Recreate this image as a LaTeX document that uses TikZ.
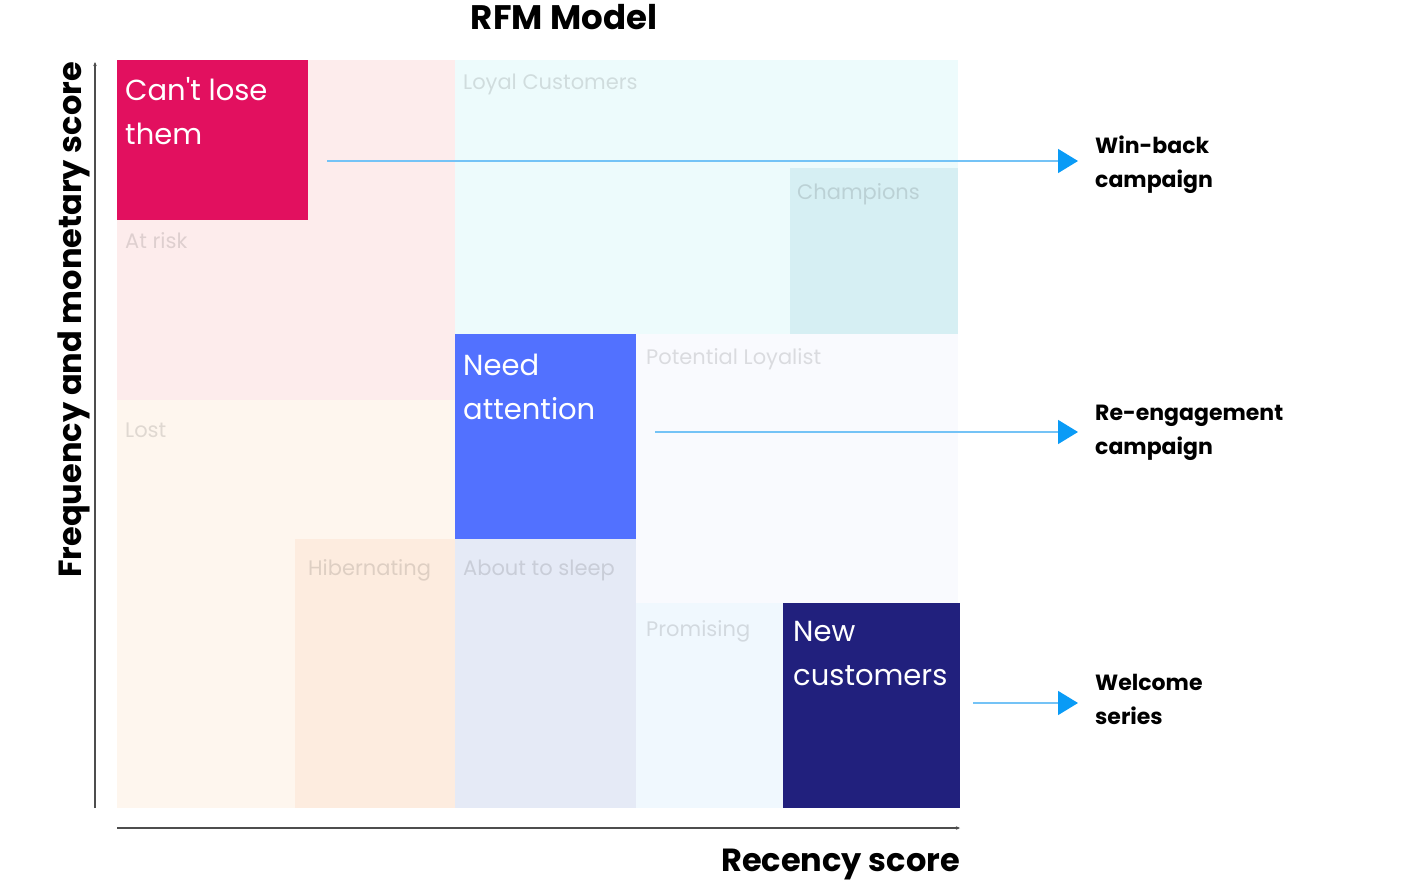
\documentclass[tikz,border=0pt]{standalone}
\usepackage{fontspec}
\setmainfont{Poppins}
\usetikzlibrary{arrows.meta,fit,calc}
\definecolor{riskc}{HTML}{FDECEC}
\definecolor{lostc}{HTML}{FEF6EE}
\definecolor{loyalc}{HTML}{EDFBFC}
\definecolor{champc}{HTML}{D6EFF3}
\definecolor{potc}{HTML}{F9FAFE}
\definecolor{hibc}{HTML}{FDECDF}
\definecolor{sleepc}{HTML}{E5EAF6}
\definecolor{promc}{HTML}{F0F8FE}
\definecolor{cantc}{HTML}{E2105F}
\definecolor{needc}{HTML}{5271FF}
\definecolor{newcc}{HTML}{21207D}
\definecolor{linkc}{HTML}{74C3F6}
\definecolor{tipc}{HTML}{0A9BF6}
\definecolor{axisc}{HTML}{4D4D4D}
\begin{document}
\begin{tikzpicture}[x=1pt,y=-1pt]
\tikzset{
  seg/.style={inner sep=0pt,outer sep=0pt,draw=none},
  faint/.style={anchor=base west,inner sep=0pt,text=black,text opacity=0.12,font=\fontsize{21}{25}\selectfont},
  big/.style={anchor=north west,inner sep=0pt,align=left,text=white,font=\fontsize{29}{44}\selectfont},
  act/.style={anchor=north west,inner sep=0pt,align=left,font=\bfseries\fontsize{22}{34}\selectfont},
  axis/.style={draw=axisc,line width=1.3pt,-{Stealth[length=4pt,width=3.5pt]}},
  link/.style={draw=linkc,line width=1.5pt,-{Triangle[length=20pt,width=24pt,color=tipc]},shorten >=17pt}
}
\useasboundingbox (0,0) rectangle (1416,885);
% segments
\node(risk)[seg,fill=riskc,fit={(117,60) (455,400)}]{};
\node(lost)[seg,fill=lostc,fit={(117,400) (455,808)}]{};
\node(loyal)[seg,fill=loyalc,fit={(455,60) (958,334)}]{};
\node(champ)[seg,fill=champc,fit={(790,168) (958,334)}]{};
\node(pot)[seg,fill=potc,fit={(636,334) (958,603)}]{};
\node(hib)[seg,fill=hibc,fit={(295,539) (455,808)}]{};
\node(sleep)[seg,fill=sleepc,fit={(455,539) (636,808)}]{};
\node(prom)[seg,fill=promc,fit={(636,603) (783,808)}]{};
\node(cant)[seg,fill=cantc,fit={(117,60) (308,220)}]{};
\node(need)[seg,fill=needc,fit={(455,334) (636,539)}]{};
\node(newc)[seg,fill=newcc,fit={(783,603) (960,808)}]{};
% faint names
\node(risklbl)[faint] at ([shift={(8,29)}]cant.south west){At risk};
\node(loyallbl)[faint] at ([shift={(8,30)}]loyal.north west){Loyal Customers};
\node(champlbl)[faint] at ([shift={(7,32)}]champ.north west){Champions};
\node(potlbl)[faint] at ([shift={(10,30)}]pot.north west){Potential Loyalist};
\node(lostlbl)[faint] at ([shift={(8,37)}]lost.north west){Lost};
\node(hiblbl)[faint] at ([shift={(13,36)}]hib.north west){Hibernating};
\node(sleeplbl)[faint] at ([shift={(8,36)}]sleep.north west){About to sleep};
\node(promlbl)[faint] at ([shift={(10,33)}]prom.north west){Promising};
% highlighted names
\node(cantlbl)[big] at ([shift={(8,17)}]cant.north west){Can\textquotesingle t lose\\them};
\node(needlbl)[big] at ([shift={(8,20)}]need.north west){Need\\attention};
\node(newlbl)[big] at ([shift={(10,18.5)}]newc.north west){New\\customers};
% actions
\node(winback)[act] at (1095,136){Win-back\\campaign};
\node(reeng)[act] at (1095,404.5){Re-engagement\\campaign};
\node(welcome)[act] at (1095,674.5){Welcome\\series};
\coordinate(wbs) at (327,161);
\coordinate(res) at (655,432);
\coordinate(wcs) at (973,703);
\draw[link](wbs)--(winback.west |- wbs);
\draw[link](res)--(reeng.west |- res);
\draw[link](wcs)--(welcome.west |- wcs);
% axes and titles
\coordinate(yfoot) at (95,808);
\coordinate(ytop) at (95,62);
\coordinate(xfoot) at (117,828);
\coordinate(xend) at (960,828);
\draw[axis](yfoot)--(ytop);
\draw[axis](xfoot)--(xend);
\node(title)[anchor=base,inner sep=0pt,font=\bfseries\fontsize{34}{40}\selectfont] at (564,30){RFM Model};
\node(ylab)[rotate=90,anchor=base,inner sep=0pt,font=\bfseries\fontsize{32}{40}\selectfont] at (81,320){Frequency and monetary score};
\node(xlab)[anchor=base east,inner sep=0pt,font=\bfseries\fontsize{32}{40}\selectfont] at (960,871){Recency score};
\end{tikzpicture}
\end{document}
